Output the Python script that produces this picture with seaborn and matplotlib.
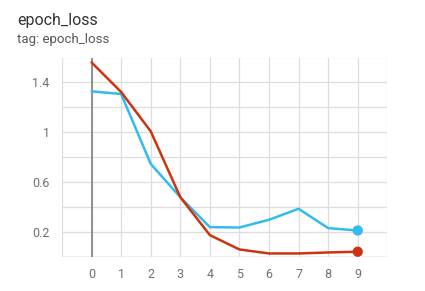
import numpy as np
import pandas as pd
import matplotlib
matplotlib.use("Agg")
import matplotlib.pyplot as plt
import seaborn as sns

steps = [0, 1, 2, 3, 4, 5, 6, 7, 8, 9]
train_loss = [1.557, 1.32, 1.005, 0.477, 0.173, 0.058, 0.026, 0.026, 0.034, 0.04]
val_loss = [1.325, 1.304, 0.744, 0.477, 0.237, 0.234, 0.296, 0.384, 0.229, 0.21]
series_names = ["train", "validation"]
x_ticks = [0, 1, 2, 3, 4, 5, 6, 7, 8, 9]
y_ticks = [0.2, 0.6, 1.0, 1.4]
y_tick_labels = ["0.2", "0.6", "1", "1.4"]

colors = {"train": "#cc3311", "validation": "#33bbee"}

df = pd.DataFrame({
    "step": steps * 2,
    "loss": train_loss + val_loss,
    "run": ["train"] * len(steps) + ["validation"] * len(steps),
})

sns.set_style("white")
plt.rcParams["font.family"] = ["Roboto", "DejaVu Sans"]

fig = plt.figure(figsize=(4.25, 2.91), dpi=100)
ax = fig.add_axes([62 / 425, 34.3 / 291, (387.3 - 62) / 425, (256.7 - 58.3) / 291])

ax.set_xlim(-1, 10)
ax.set_ylim(0.0, 1.59)

# grid
for xv in range(-1, 11):
    ax.axvline(xv, color="#dddddd", lw=0.9, zorder=0)
for yv in np.arange(0.0, 1.61, 0.2):
    ax.axhline(yv, color="#dddddd", lw=0.9, zorder=0)
ax.axhline(0.0, color="#cccccc", lw=1.0, zorder=0)
ax.axvline(0, color="#888888", lw=1.3, zorder=1)

# validation drawn first, train on top
for name in ["validation", "train"]:
    sub = df[df["run"] == name]
    sns.lineplot(data=sub, x="step", y="loss", color=colors[name], lw=1.8,
                 ax=ax, legend=False, zorder=3)
    last = sub.iloc[[-1]]
    sns.scatterplot(data=last, x="step", y="loss", color=colors[name], s=55,
                    edgecolor="none", ax=ax, legend=False, zorder=4)

for s in ax.spines.values():
    s.set_visible(False)

ax.set_xticks(x_ticks)
ax.set_xticklabels([str(v) for v in x_ticks])
ax.set_yticks(y_ticks)
ax.set_yticklabels(y_tick_labels)
ax.tick_params(axis="x", length=4, color="#cccccc", width=0.8, labelsize=9,
               labelcolor="#707070", pad=4)
ax.tick_params(axis="y", length=4, color="#dddddd", width=0.8, labelsize=9,
               labelcolor="#707070", pad=5)
ax.set_xlabel("")
ax.set_ylabel("")

fig.text(17 / 425, 1 - 21 / 291, "epoch_loss", fontsize=11.5, color="#333333",
         va="center", ha="left")
fig.text(17 / 425, 1 - 40 / 291, "tag: epoch_loss", fontsize=9.5, color="#555555",
         va="center", ha="left")

fig.savefig("out.png", dpi=100)
